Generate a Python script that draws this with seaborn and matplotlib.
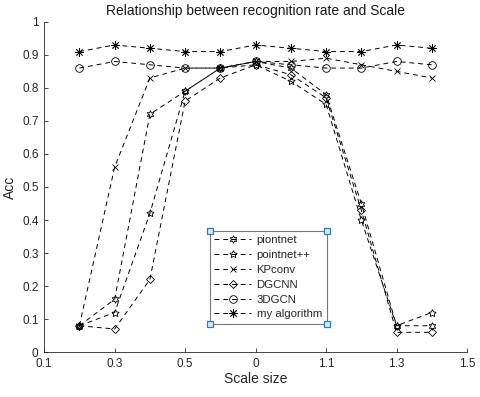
import matplotlib
matplotlib.use("Agg")
import matplotlib.pyplot as plt
import seaborn as sns
import pandas as pd

scale = [0.2, 0.3, 0.4, 0.5, 0.6, 0.7, 0.8, 0.9, 1.0, 1.1, 1.2]
piontnet = [0.08, 0.16, 0.72, 0.79, 0.86, 0.88, 0.86, 0.78, 0.45, 0.08, 0.08]
pointnet_pp = [0.08, 0.12, 0.42, 0.79, 0.86, 0.87, 0.82, 0.75, 0.40, 0.08, 0.12]
kpconv = [0.08, 0.56, 0.83, 0.86, 0.86, 0.88, 0.88, 0.89, 0.87, 0.85, 0.83]
dgcnn = [0.08, 0.07, 0.22, 0.76, 0.83, 0.87, 0.84, 0.77, 0.43, 0.06, 0.06]
gcn3d = [0.86, 0.88, 0.87, 0.86, 0.86, 0.88, 0.87, 0.86, 0.86, 0.88, 0.87]
my_algo = [0.91, 0.93, 0.92, 0.91, 0.91, 0.93, 0.92, 0.91, 0.91, 0.93, 0.92]

xtick_pos = [0.1, 0.3, 0.5, 0.7, 0.9, 1.1, 1.3]
xtick_labels = ["0.1", "0.3", "0.5", "0", "1.1", "1.3", "1.5"]
ytick_pos = [0, 0.1, 0.2, 0.3, 0.4, 0.5, 0.6, 0.7, 0.8, 0.9, 1.0]
ytick_labels = ["0", "0.1", "0.2", "0.3", "0.4", "0.5", "0.6", "0.7", "0.8", "0.9", "1"]

series = [
    ("piontnet", piontnet, (6, 1, 0), 5.5),
    ("pointnet++", pointnet_pp, (5, 1, 0), 5.5),
    ("KPconv", kpconv, "x", 4.5),
    ("DGCNN", dgcnn, "D", 4.5),
    ("3DGCN", gcn3d, "o", 5.5),
    ("my algorithm", my_algo, (8, 2, 0), 6),
]

sns.set_style("white")
plt.rcParams["font.family"] = ["Liberation Sans", "DejaVu Sans"]
grey = "#262626"

fig = plt.figure(figsize=(4.8, 3.97), dpi=100)
ax = fig.add_axes([0.092, 0.113, 0.881, 0.832])

for name, vals, mk, ms in series:
    df = pd.DataFrame({"scale": scale, "acc": vals})
    sns.lineplot(data=df, x="scale", y="acc", ax=ax, color="k", lw=0.7,
                 linestyle=(0, (5, 4)), marker=mk, markersize=ms,
                 markerfacecolor="none", markeredgecolor="k",
                 markeredgewidth=0.6, label=name)

ax.set_xlim(0.1, 1.3)
ax.set_ylim(0, 1)
ax.set_xticks(xtick_pos)
ax.set_xticklabels(xtick_labels)
ax.set_yticks(ytick_pos)
ax.set_yticklabels(ytick_labels)
ax.tick_params(direction="in", length=3, width=0.6, colors=grey, labelsize=8.5,
               bottom=True, left=True)
ax.tick_params(axis="x", pad=4)
ax.tick_params(axis="y", pad=4)
for side in ["top", "right"]:
    ax.spines[side].set_visible(False)
for side in ["left", "bottom"]:
    ax.spines[side].set_color(grey)
    ax.spines[side].set_linewidth(0.6)

ax.set_title("Relationship between recognition rate and Scale", fontsize=10, color="#1a1a1a", pad=5)
ax.set_xlabel("Scale size", fontsize=10, color=grey, labelpad=2)
ax.set_ylabel("Acc", fontsize=10, color=grey, labelpad=4)

leg = ax.legend(loc="upper left", bbox_to_anchor=(0.392, 0.367), borderaxespad=0,
                fontsize=8.2, handlelength=3.2, handletextpad=0.5, borderpad=0.4,
                labelspacing=0.42, frameon=True, fancybox=False,
                edgecolor="#555555")
leg.get_frame().set_linewidth(0.8)
for t in leg.get_texts():
    t.set_color(grey)

# selection handles on the legend corners
fig.canvas.draw()
bb = leg.get_window_extent().transformed(fig.transFigure.inverted())
for cx in (bb.x0, bb.x1):
    for cy in (bb.y0, bb.y1):
        fig.add_artist(plt.Line2D([cx], [cy], marker="s", markersize=4,
                                  markerfacecolor="#dce9f7", markeredgecolor="#2a7ccb",
                                  markeredgewidth=0.9, transform=fig.transFigure))

fig.savefig("out.png", dpi=100)
